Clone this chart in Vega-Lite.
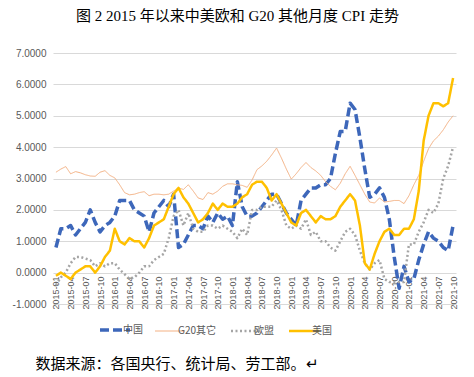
{
  "$schema": "https://vega.github.io/schema/vega-lite/v6.json",
  "autosize": {"type": "none"},
  "width": 403,
  "height": 251,
  "padding": {"left": 53, "top": 53, "right": 18, "bottom": 73},
  "background": "white",
  "config": {"view": {"stroke": null}},
  "title": {
    "text": "图 2 2015 年以来中美欧和 G20 其他月度 CPI 走势",
    "font": "Liberation Serif, Noto Sans CJK SC",
    "fontSize": 15,
    "fontWeight": "normal",
    "color": "#000000",
    "anchor": "middle",
    "frame": "group",
    "dx": -17,
    "offset": 24
  },
  "data": {
    "values": [
      {"m": "2015-01", "中国": 0.8, "G20其它": 3.2, "欧盟": -0.4, "美国": -0.1},
      {"m": "2015-02", "中国": 1.4, "G20其它": 3.3, "欧盟": -0.15, "美国": 0.0},
      {"m": "2015-03", "中国": 1.4, "G20其它": 3.38, "欧盟": 0.0, "美国": -0.1},
      {"m": "2015-04", "中国": 1.5, "G20其它": 3.15, "欧盟": 0.3, "美国": -0.2},
      {"m": "2015-05", "中国": 1.2, "G20其它": 3.22, "欧盟": 0.5, "美国": 0.0},
      {"m": "2015-06", "中国": 1.4, "G20其它": 3.18, "欧盟": 0.5, "美国": 0.1},
      {"m": "2015-07", "中国": 1.6, "G20其它": 3.12, "欧盟": 0.45, "美国": 0.2},
      {"m": "2015-08", "中国": 2.0, "G20其它": 3.08, "欧盟": 0.4, "美国": 0.2},
      {"m": "2015-09", "中国": 1.6, "G20其它": 3.07, "欧盟": 0.2, "美国": 0.0},
      {"m": "2015-10", "中国": 1.3, "G20其它": 3.2, "欧盟": 0.3, "美国": 0.2},
      {"m": "2015-11", "中国": 1.5, "G20其它": 3.25, "欧盟": 0.2, "美国": 0.5},
      {"m": "2015-12", "中国": 1.6, "G20其它": 3.1, "欧盟": 0.3, "美国": 0.7},
      {"m": "2016-01", "中国": 1.8, "G20其它": 3.02, "欧盟": 0.3, "美国": 1.4},
      {"m": "2016-02", "中国": 2.3, "G20其它": 2.8, "欧盟": 0.1, "美国": 1.0},
      {"m": "2016-03", "中国": 2.3, "G20其它": 2.55, "欧盟": -0.05, "美国": 0.9},
      {"m": "2016-04", "中国": 2.3, "G20其它": 2.48, "欧盟": -0.2, "美国": 1.1},
      {"m": "2016-05", "中国": 2.0, "G20其它": 2.5, "欧盟": -0.15, "美国": 1.0},
      {"m": "2016-06", "中国": 1.9, "G20其它": 2.55, "欧盟": 0.0, "美国": 1.0},
      {"m": "2016-07", "中国": 1.8, "G20其它": 2.58, "欧盟": 0.2, "美国": 0.8},
      {"m": "2016-08", "中国": 1.3, "G20其它": 2.45, "欧盟": 0.2, "美国": 1.1},
      {"m": "2016-09", "中国": 1.9, "G20其它": 2.5, "欧盟": 0.4, "美国": 1.5},
      {"m": "2016-10", "中国": 2.1, "G20其它": 2.5, "欧盟": 0.5, "美国": 1.6},
      {"m": "2016-11", "中国": 2.3, "G20其它": 2.48, "欧盟": 0.6, "美国": 1.7},
      {"m": "2016-12", "中国": 2.1, "G20其它": 2.5, "欧盟": 1.1, "美国": 2.1},
      {"m": "2017-01", "中国": 2.5, "G20其它": 2.6, "欧盟": 1.8, "美国": 2.5},
      {"m": "2017-02", "中国": 0.8, "G20其它": 2.7, "欧盟": 2.0, "美国": 2.7},
      {"m": "2017-03", "中国": 0.9, "G20其它": 2.65, "欧盟": 1.5, "美国": 2.4},
      {"m": "2017-04", "中国": 1.2, "G20其它": 2.8, "欧盟": 1.9, "美国": 2.2},
      {"m": "2017-05", "中国": 1.5, "G20其它": 2.6, "欧盟": 1.4, "美国": 1.9},
      {"m": "2017-06", "中国": 1.5, "G20其它": 2.38, "欧盟": 1.3, "美国": 1.6},
      {"m": "2017-07", "中国": 1.4, "G20其它": 2.33, "欧盟": 1.3, "美国": 1.7},
      {"m": "2017-08", "中国": 1.8, "G20其它": 2.55, "欧盟": 1.5, "美国": 1.9},
      {"m": "2017-09", "中国": 1.6, "G20其它": 2.5, "欧盟": 1.5, "美国": 2.2},
      {"m": "2017-10", "中国": 1.9, "G20其它": 2.6, "欧盟": 1.4, "美国": 2.0},
      {"m": "2017-11", "中国": 1.7, "G20其它": 2.75, "欧盟": 1.5, "美国": 2.2},
      {"m": "2017-12", "中国": 1.8, "G20其它": 2.83, "欧盟": 1.4, "美国": 2.1},
      {"m": "2018-01", "中国": 1.5, "G20其它": 2.83, "欧盟": 1.3, "美国": 2.1},
      {"m": "2018-02", "中国": 2.9, "G20其它": 2.8, "欧盟": 1.1, "美国": 2.2},
      {"m": "2018-03", "中国": 2.1, "G20其它": 2.78, "欧盟": 1.4, "美国": 2.4},
      {"m": "2018-04", "中国": 1.8, "G20其它": 2.72, "欧盟": 1.2, "美国": 2.5},
      {"m": "2018-05", "中国": 1.8, "G20其它": 2.95, "欧盟": 2.0, "美国": 2.8},
      {"m": "2018-06", "中国": 1.9, "G20其它": 3.28, "欧盟": 2.0, "美国": 2.9},
      {"m": "2018-07", "中国": 2.1, "G20其它": 3.4, "欧盟": 2.1, "美国": 2.9},
      {"m": "2018-08", "中国": 2.3, "G20其它": 3.55, "欧盟": 2.1, "美国": 2.7},
      {"m": "2018-09", "中国": 2.5, "G20其它": 3.75, "欧盟": 2.1, "美国": 2.3},
      {"m": "2018-10", "中国": 2.5, "G20其它": 3.97, "欧盟": 2.3, "美国": 2.5},
      {"m": "2018-11", "中国": 2.2, "G20其它": 3.65, "欧盟": 2.0, "美国": 2.2},
      {"m": "2018-12", "中国": 1.9, "G20其它": 3.3, "欧盟": 1.5, "美国": 1.9},
      {"m": "2019-01", "中国": 1.7, "G20其它": 2.98, "欧盟": 1.4, "美国": 1.6},
      {"m": "2019-02", "中国": 1.5, "G20其它": 3.15, "欧盟": 1.5, "美国": 1.5},
      {"m": "2019-03", "中国": 2.3, "G20其它": 3.35, "欧盟": 1.4, "美国": 1.9},
      {"m": "2019-04", "中国": 2.5, "G20其它": 3.51, "欧盟": 1.7, "美国": 2.0},
      {"m": "2019-05", "中国": 2.7, "G20其它": 3.35, "欧盟": 1.2, "美国": 1.8},
      {"m": "2019-06", "中国": 2.7, "G20其它": 3.24, "欧盟": 1.3, "美国": 1.6},
      {"m": "2019-07", "中国": 2.8, "G20其它": 3.1, "欧盟": 1.0, "美国": 1.8},
      {"m": "2019-08", "中国": 2.8, "G20其它": 2.9, "欧盟": 1.0, "美国": 1.7},
      {"m": "2019-09", "中国": 3.0, "G20其它": 2.75, "欧盟": 0.8, "美国": 1.7},
      {"m": "2019-10", "中国": 3.8, "G20其它": 2.64, "欧盟": 0.7, "美国": 1.8},
      {"m": "2019-11", "中国": 4.5, "G20其它": 2.85, "欧盟": 1.0, "美国": 2.1},
      {"m": "2019-12", "中国": 4.5, "G20其它": 3.15, "欧盟": 1.3, "美国": 2.3},
      {"m": "2020-01", "中国": 5.4, "G20其它": 3.39, "欧盟": 1.4, "美国": 2.5},
      {"m": "2020-02", "中国": 5.2, "G20其它": 3.1, "欧盟": 1.2, "美国": 2.3},
      {"m": "2020-03", "中国": 4.3, "G20其它": 2.8, "欧盟": 0.7, "美国": 1.5},
      {"m": "2020-04", "中国": 3.3, "G20其它": 2.5, "欧盟": 0.3, "美国": 0.3},
      {"m": "2020-05", "中国": 2.4, "G20其它": 2.25, "欧盟": 0.1, "美国": 0.1},
      {"m": "2020-06", "中国": 2.5, "G20其它": 2.22, "欧盟": 0.3, "美国": 0.6},
      {"m": "2020-07", "中国": 2.7, "G20其它": 2.38, "欧盟": 0.4, "美国": 1.0},
      {"m": "2020-08", "中国": 2.4, "G20其它": 2.25, "欧盟": -0.2, "美国": 1.3},
      {"m": "2020-09", "中国": 1.7, "G20其它": 2.27, "欧盟": -0.3, "美国": 1.4},
      {"m": "2020-10", "中国": 0.5, "G20其它": 2.3, "欧盟": -0.3, "美国": 1.2},
      {"m": "2020-11", "中国": -0.5, "G20其它": 2.3, "欧盟": -0.3, "美国": 1.2},
      {"m": "2020-12", "中国": 0.2, "G20其它": 2.2, "欧盟": -0.3, "美国": 1.4},
      {"m": "2021-01", "中国": -0.3, "G20其它": 2.45, "欧盟": 0.9, "美国": 1.4},
      {"m": "2021-02", "中国": -0.2, "G20其它": 2.8, "欧盟": 0.9, "美国": 1.7},
      {"m": "2021-03", "中国": 0.4, "G20其它": 3.1, "欧盟": 1.3, "美国": 2.6},
      {"m": "2021-04", "中国": 0.9, "G20其它": 3.55, "欧盟": 1.6, "美国": 4.2},
      {"m": "2021-05", "中国": 1.3, "G20其它": 3.95, "欧盟": 2.0, "美国": 5.0},
      {"m": "2021-06", "中国": 1.1, "G20其它": 4.2, "欧盟": 1.9, "美国": 5.4},
      {"m": "2021-07", "中国": 1.0, "G20其它": 4.35, "欧盟": 2.2, "美国": 5.4},
      {"m": "2021-08", "中国": 0.8, "G20其它": 4.55, "欧盟": 3.0, "美国": 5.3},
      {"m": "2021-09", "中国": 0.7, "G20其它": 4.8, "欧盟": 3.4, "美国": 5.4},
      {"m": "2021-10", "中国": 1.5, "G20其它": 5.0, "欧盟": 4.0, "美国": 6.2}
    ]
  },
  "transform": [
    {"fold": ["中国", "G20其它", "欧盟", "美国"], "as": ["series", "value"]}
  ],
  "mark": {"type": "line", "strokeCap": "butt", "strokeJoin": "round"},
  "encoding": {
    "x": {
      "field": "m",
      "type": "ordinal",
      "sort": null,
      "scale": {"type": "point", "padding": 0.6},
      "axis": {
        "values": ["2015-01","2015-04","2015-07","2015-10","2016-01","2016-04","2016-07","2016-10","2017-01","2017-04","2017-07","2017-10","2018-01","2018-04","2018-07","2018-10","2019-01","2019-04","2019-07","2019-10","2020-01","2020-04","2020-07","2020-10","2021-01","2021-04","2021-07","2021-10"],
        "labelAngle": -90,
        "labelFont": "Liberation Sans",
        "labelFontSize": 9,
        "labelColor": "#595959",
        "labelPadding": 3,
        "offset": -31,
        "domain": false,
        "ticks": false,
        "grid": false,
        "title": "数据来源：各国央行、统计局、劳工部。↵",
        "titleFont": "Noto Sans CJK SC",
        "titleFontSize": 15,
        "titleFontWeight": "normal",
        "titleColor": "#000000",
        "titleAlign": "left",
        "titleBaseline": "top",
        "titleX": -18,
        "titleY": 83
      }
    },
    "y": {
      "field": "value",
      "type": "quantitative",
      "scale": {"domain": [-1, 7], "nice": false, "zero": false},
      "axis": {
        "values": [-1, 0, 1, 2, 3, 4, 5, 6, 7],
        "labelExpr": "replace(format(datum.value, '.4f'), '−', '-')",
        "labelFont": "Liberation Sans",
        "labelFontSize": 10,
        "labelColor": "#595959",
        "labelPadding": 7,
        "domain": false,
        "ticks": false,
        "grid": true,
        "gridColor": "#D9D9D9",
        "gridWidth": 1,
        "title": null
      }
    },
    "color": {
      "field": "series",
      "type": "nominal",
      "scale": {
        "domain": ["中国", "G20其它", "欧盟", "美国"],
        "range": ["#3D67BA", "#F4B183", "#A5A5A5", "#FFC000"]
      },
      "legend": {
        "title": null,
        "orient": "none",
        "legendX": 57,
        "legendY": 272,
        "direction": "horizontal",
        "symbolType": "stroke",
        "symbolSize": 900,
        "symbolStrokeWidth": 2.5,
        "labelFont": "Noto Sans CJK SC",
        "labelFontSize": 10,
        "labelColor": "#595959",
        "labelOffset": 3,
        "columnPadding": 10,
        "encode": {
          "symbols": {
            "update": {
              "strokeWidth": {"signal": "datum.value === 'G20其它' ? 1 : (datum.value === '中国' ? 3.5 : 2.5)"}
            }
          }
        }
      }
    },
    "strokeDash": {
      "field": "series",
      "type": "nominal",
      "scale": {
        "domain": ["中国", "G20其它", "欧盟", "美国"],
        "range": [[9, 4], [1, 0], [2, 2.5], [1, 0]]
      },
      "legend": null
    },
    "strokeWidth": {
      "condition": [
        {"test": "datum.series === '中国'", "value": 3.5},
        {"test": "datum.series === 'G20其它'", "value": 1},
        {"test": "datum.series === '欧盟'", "value": 2.5}
      ],
      "value": 2.5
    }
  }
}
